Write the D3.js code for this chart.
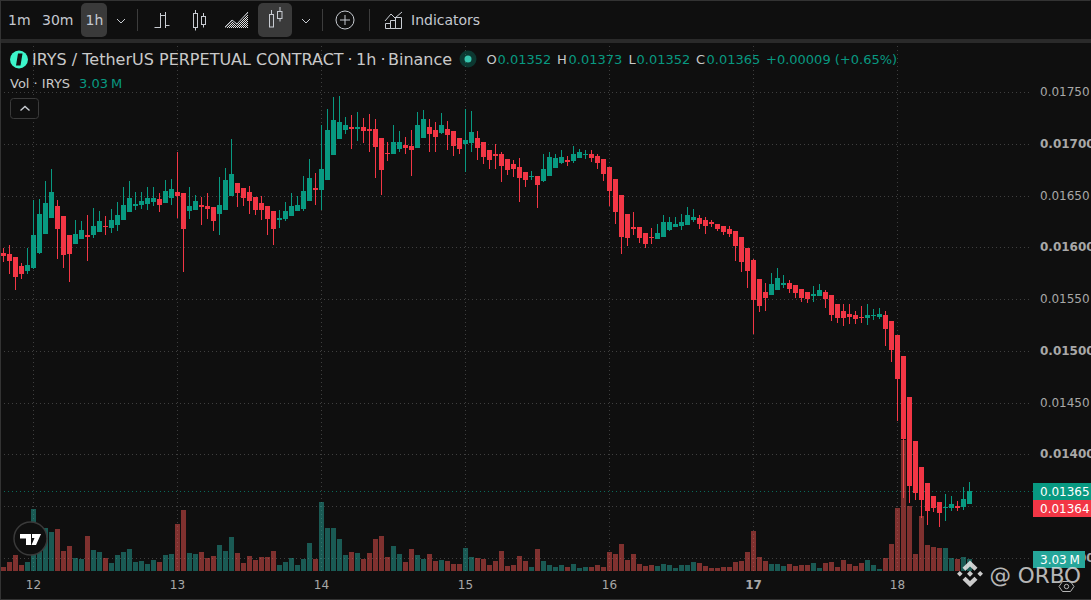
<!DOCTYPE html>
<html><head><meta charset="utf-8">
<style>html,body{margin:0;padding:0;background:#0f0f0f;overflow:hidden}svg{display:block;font-family:"DejaVu Sans",sans-serif}</style>
<script src="https://cdn.jsdelivr.net/npm/d3@7"></script>
</head><body><svg id="c" width="1091" height="600"></svg>
<script>
// Prices in units of 0.00001 USDT, volumes in millions
const opens=[1595,1594,1591,1582,1577,1580,1595,1613,1628,1640,1630,1612,1603,1608,1612,1612,1615,1621,1619,1622,1626,1634,1640,1641,1642,1644,1647,1643,1648,1653,1652,1635,1636,1641,1640,1639,1632,1636,1650,1662,1657,1653,1649,1643,1640,1635,1626,1627,1630,1635,1637,1645,1657,1655,1665,1689,1705,1713,1716,1714,1716,1714,1714,1706,1691,1690,1695,1699,1698,1696,1706,1716,1713,1710,1714,1712,1706,1700,1701,1706,1702,1694,1690,1690,1685,1680,1678,1673,1668,1669,1664,1669,1677,1681,1684,1683,1686,1689,1690,1688,1685,1678,1666,1651,1632,1620,1620,1614,1610,1608,1610,1617,1620,1621,1622,1626,1628,1626,1624,1623,1621,1618,1616,1610,1599,1588,1569,1557,1554,1559,1564,1566,1564,1560,1557,1553,1553,1557,1554,1545,1539,1536,1535,1533,1532,1534,1533,1535,1529,1515,1495,1455,1413,1388,1372,1360,1354,1348,1348,1350,1349,1352];
const highs=[1599,1602,1591,1585,1599,1646,1647,1664,1676,1646,1630,1612,1626,1625,1631,1638,1635,1630,1637,1644,1658,1664,1653,1653,1658,1658,1652,1665,1666,1692,1652,1658,1651,1649,1652,1639,1668,1677,1705,1662,1657,1659,1649,1650,1640,1635,1636,1644,1652,1650,1669,1685,1672,1718,1734,1745,1746,1726,1728,1731,1725,1729,1724,1706,1702,1718,1712,1707,1713,1731,1733,1724,1721,1730,1722,1712,1706,1734,1732,1712,1702,1694,1700,1692,1685,1684,1686,1673,1674,1669,1690,1692,1690,1694,1688,1698,1695,1694,1694,1690,1685,1678,1666,1651,1632,1634,1620,1614,1619,1623,1631,1629,1629,1632,1639,1637,1631,1629,1626,1623,1621,1621,1616,1610,1599,1589,1569,1566,1575,1580,1573,1568,1564,1560,1557,1563,1565,1559,1554,1545,1545,1545,1539,1543,1545,1540,1541,1539,1529,1515,1495,1455,1413,1388,1372,1360,1354,1362,1360,1355,1369,1373];
const lows=[1586,1574,1559,1569,1574,1579,1594,1613,1628,1589,1580,1567,1603,1608,1587,1609,1615,1612,1614,1616,1626,1634,1636,1637,1636,1640,1634,1643,1641,1628,1576,1627,1636,1622,1627,1616,1612,1636,1650,1639,1640,1632,1631,1626,1612,1602,1619,1625,1630,1635,1635,1645,1641,1636,1665,1689,1705,1709,1695,1703,1701,1692,1667,1651,1683,1690,1692,1690,1669,1696,1706,1692,1692,1709,1694,1688,1690,1673,1692,1684,1680,1676,1676,1663,1670,1668,1644,1658,1665,1638,1663,1669,1677,1680,1679,1681,1686,1685,1682,1676,1664,1640,1623,1594,1601,1612,1604,1599,1603,1608,1610,1616,1620,1617,1622,1624,1618,1613,1620,1616,1612,1610,1587,1576,1561,1516,1538,1539,1554,1559,1561,1556,1551,1547,1546,1547,1553,1541,1529,1527,1524,1526,1526,1527,1525,1530,1531,1505,1489,1432,1358,1353,1356,1339,1332,1344,1330,1336,1345,1345,1346,1352];
const closes=[1592,1587,1571,1574,1583,1612,1632,1643,1653,1618,1593,1594,1613,1617,1610,1621,1625,1620,1626,1631,1641,1648,1642,1645,1648,1648,1641,1654,1656,1650,1618,1640,1645,1639,1637,1625,1641,1665,1671,1652,1648,1645,1636,1636,1627,1618,1628,1635,1640,1641,1654,1667,1655,1676,1713,1723,1721,1718,1714,1716,1712,1712,1697,1675,1690,1702,1702,1696,1694,1718,1724,1709,1707,1718,1708,1698,1695,1704,1711,1696,1687,1684,1688,1679,1675,1676,1667,1665,1669,1660,1676,1687,1686,1687,1682,1690,1692,1690,1686,1681,1671,1654,1634,1610,1609,1618,1609,1603,1609,1614,1624,1624,1623,1624,1631,1629,1623,1621,1623,1618,1615,1613,1601,1586,1577,1549,1543,1551,1565,1570,1566,1560,1556,1551,1550,1555,1559,1550,1535,1532,1532,1533,1531,1532,1535,1535,1536,1521,1501,1473,1415,1370,1363,1356,1345,1348,1343,1349,1352,1348,1357,1365];
const volumes=[1.01,2.27,4.04,1.52,2.27,15.66,8.25,10.86,9.85,10.6,5.05,6.32,3.28,3.03,8.84,5.3,4.8,3.28,2.02,4.04,4.8,5.56,2.27,2.53,1.77,2.78,2.27,4.04,4.29,11.87,15.4,4.55,4.29,4.8,3.28,3.79,6.57,5.05,8.59,4.55,2.02,3.79,2.78,3.54,3.54,5.05,1.52,2.27,3.28,1.52,3.03,7.07,3.03,17.43,10.86,10.86,8.08,4.04,4.8,4.55,3.03,4.55,8.08,8.84,3.54,6.32,4.29,2.27,5.56,4.04,3.03,4.29,2.53,2.78,2.53,1.77,1.77,5.81,3.54,3.28,3.03,1.52,2.53,5.05,1.26,1.52,3.79,2.53,1.01,5.56,2.53,1.52,1.01,1.52,1.01,1.77,0.76,1.01,1.01,1.52,1.01,4.8,4.29,6.82,2.78,4.29,1.77,1.26,1.52,1.26,1.77,1.52,0.76,1.52,1.52,2.27,2.02,1.26,0.76,0.76,1.01,1.01,2.27,2.53,4.8,10.1,3.54,2.53,1.77,1.77,1.26,1.77,1.26,1.52,1.52,2.02,0.76,2.02,2.27,1.01,2.78,1.77,1.26,2.02,2.78,1.52,0.51,3.28,6.82,15.9,33.1,16.4,4.29,13.9,6.57,6.06,5.81,5.81,3.28,3.03,3.54,3.03];
const priceTicks=[1750,1700,1650,1600,1550,1500,1450,1400,1350,1300];
const boldPrices=[1700,1600,1500,1400,1300];
const dayIndex=[5,29,53,77,101,125,149];
const dayLabels=["12","13","14","15","16","17","18"];
const boldDays=["17"];
const titleParts=[["IRYS / TetherUS PERPETUAL CONTRACT",32],["·",347.5],["1h",356],["·",380.5],["Binance",388]];
const legendOHLC=[["O","0.01352"],["H","0.01373"],["L","0.01352"],["C","0.01365"]];
const legendChange="+0.00009 (+0.65%)";
const prevTag="0.01364", volumeTag="3.03 M";

const GREEN="#089981",RED="#F23645",BG="#0f0f0f",TXT="#c4c8d0",AXT="#a8a8a8",GRID="#3f3f3f";
const svg=d3.select("#c");
const n=opens.length;
const x=d3.scaleLinear().domain([0,n-1]).range([3.5,969.5]);
const y=d3.scaleLinear().domain([1750,1300]).range([92,558]).interpolate(d3.interpolateRound);
const v=d3.scaleLinear().domain([0,33.1]).range([571,440]);
const fmtP=d=>(d/100000).toFixed(5);
const data=d3.range(n).map(i=>({i,o:opens[i],h:highs[i],l:lows[i],c:closes[i],v:volumes[i],up:closes[i]>=opens[i]}));

svg.append("rect").attr("width",1091).attr("height",600).attr("fill",BG);

// grid
const gridH=svg.append("g").attr("transform","translate(0,0)")
 .call(d3.axisRight(y).tickValues(priceTicks).tickSize(1030).tickFormat(""));
const gridV=svg.append("g").attr("transform","translate(0,571)")
 .call(d3.axisBottom(x).tickValues(dayIndex).tickSize(-528).offset(0).tickFormat(""));
[gridH,gridV].forEach(g=>{g.select(".domain").remove();
 g.selectAll("line").attr("stroke",GRID).attr("stroke-dasharray","1 3");});

// last price line
svg.append("line").attr("x1",0).attr("x2",1033).attr("y1",y(closes[n-1])+.5).attr("y2",y(closes[n-1])+.5)
 .attr("stroke",GREEN).attr("stroke-opacity",.65).attr("stroke-dasharray","1 3");

// candles
const cg=svg.append("g").attr("shape-rendering","crispEdges");
cg.selectAll(".w").data(data).join("rect").attr("class","w")
 .attr("x",d=>x(d.i)-.5).attr("width",1).attr("y",d=>y(d.h)).attr("height",d=>Math.max(1,y(d.l)-y(d.h)))
 .attr("fill",d=>d.up?GREEN:RED);
cg.selectAll(".b").data(data).join("rect").attr("class","b")
 .attr("x",d=>x(d.i)-2.5).attr("width",5).attr("y",d=>y(Math.max(d.o,d.c)))
 .attr("height",d=>Math.max(1,y(Math.min(d.o,d.c))-y(Math.max(d.o,d.c))))
 .attr("fill",d=>d.up?GREEN:RED);

// volume
svg.append("g").attr("shape-rendering","crispEdges").selectAll("rect").data(data).join("rect")
 .attr("x",d=>x(d.i)-2.5).attr("width",5).attr("y",d=>Math.round(v(d.v))).attr("height",d=>571-Math.round(v(d.v)))
 .attr("fill",d=>d.up?"rgba(38,166,154,.5)":"rgba(239,83,80,.5)");

// price axis
const pa=svg.append("g").attr("transform","translate(1040,0)")
 .call(d3.axisRight(y).tickValues(priceTicks).tickSize(0).tickPadding(0).tickFormat(fmtP));
pa.select(".domain").remove();
pa.selectAll("text").attr("fill",AXT).attr("font-size",12).attr("font-family","DejaVu Sans")
 .attr("font-weight",d=>boldPrices.includes(d)?"bold":"normal");

// time axis
const ta=svg.append("g").attr("transform","translate(0,571)")
 .call(d3.axisBottom(x).tickValues(dayIndex).tickSize(0).tickPadding(9.5).offset(0).tickFormat((d,i)=>dayLabels[i]));
ta.select(".domain").remove();
ta.selectAll("text").attr("fill",AXT).attr("font-size",12).attr("font-family","DejaVu Sans")
 .attr("font-weight",(d,i)=>boldDays.includes(dayLabels[i])?"bold":"normal");

// price tags
function tag(yy,h,w,fill,t){svg.append("rect").attr("x",1033).attr("y",yy).attr("width",w).attr("height",h).attr("fill",fill);
 svg.append("text").attr("x",1040).attr("y",yy+h/2+4.5).attr("fill","#fff").attr("font-size",12).attr("word-spacing",-1).text(t);}
tag(483,17,58,GREEN,fmtP(closes[n-1]));
tag(500,17,58,RED,prevTag);
tag(551,17,52,"#26a69a",volumeTag);

// toolbar
svg.append("rect").attr("x",0).attr("y",39).attr("width",1091).attr("height",4).attr("fill","#2a2a2a");
svg.append("rect").attr("x",81).attr("y",3).attr("width",26).attr("height",34).attr("rx",5).attr("fill","#3a3a3a");
svg.append("rect").attr("x",258).attr("y",3).attr("width",34).attr("height",34).attr("rx",5).attr("fill","#3a3a3a");
[["1m",8],["30m",42],["1h",85.5],["Indicators",411]].forEach(([t,xx])=>svg.append("text").attr("x",xx).attr("y",25).attr("fill",TXT).attr("font-size",14).text(t));
[[137.5],[322.5],[369.5]].forEach(([xx])=>svg.append("line").attr("x1",xx).attr("x2",xx).attr("y1",9).attr("y2",31).attr("stroke","#3d3d3d"));
const defs=svg.append("defs");
const pat=defs.append("pattern").attr("id","dots").attr("width",2).attr("height",2).attr("patternUnits","userSpaceOnUse");
pat.append("rect").attr("width",1).attr("height",1).attr("fill","#e0e0e0");
pat.append("rect").attr("x",1).attr("y",1).attr("width",1).attr("height",1).attr("fill","#e0e0e0");
svg.append("path").attr("d","M225 28l7-7 5 4 11-12v15z").attr("fill","url(#dots)");

// legend
svg.append("circle").attr("cx",19).attr("cy",59.5).attr("r",9).attr("fill","#3cf5cb");
svg.append("path").attr("d","M18 53.5h4.5l-2 12h-4.5z").attr("fill","#111");
titleParts.forEach(([t,xx])=>svg.append("text").attr("x",xx).attr("y",65).attr("fill","#c9c9c9").attr("font-size",16).text(t));
svg.append("circle").attr("cx",468).attr("cy",59).attr("r",8.5).attr("fill",GREEN).attr("opacity",.3);
svg.append("circle").attr("cx",468).attr("cy",59).attr("r",3.5).attr("fill","#37c5ae");
const lx=[[486.5,497.5],[557,568.5],[628.5,636.5],[696,706.5]];
legendOHLC.forEach(([k,val],i)=>{
 svg.append("text").attr("x",lx[i][0]).attr("y",64).attr("fill","#c9c9c9").attr("font-size",13).text(k);
 svg.append("text").attr("x",lx[i][1]).attr("y",64).attr("fill",GREEN).attr("font-size",13).text(val);});
svg.append("text").attr("x",766).attr("y",64).attr("fill",GREEN).attr("font-size",13).text(legendChange);
svg.append("text").attr("x",10).attr("y",88).attr("fill","#c9c9c9").attr("font-size",13).text("Vol · IRYS");
svg.append("text").attr("x",79).attr("y",88).attr("fill",GREEN).attr("font-size",13).attr("word-spacing",-1).text(volumeTag);
svg.append("rect").attr("x",10.5).attr("y",98.5).attr("width",28).attr("height",20).attr("rx",3).attr("fill",BG).attr("stroke","#3a3a3a");

// line icons
const ink=svg.append("g").attr("fill","none").attr("stroke","#c8ccd2").attr("stroke-width",1);
[[117,19,121,23,125,19],[302,19,306,23,310,19]].forEach(p=>ink.append("path").attr("d",`M${p[0]} ${p[1]}L${p[2]} ${p[3]}L${p[4]} ${p[5]}`));
ink.append("path").attr("d","M154.5 27.5h5.5M160.5 28V13M160.5 15.5h5M165.5 12v16M165.5 25.5h4");
ink.append("path").attr("d","M195.5 10v3.5M195.5 27.5v3M203.5 13v3M203.5 24.5v3");
ink.append("rect").attr("x",193.5).attr("y",13.5).attr("width",4).attr("height",14);
ink.append("rect").attr("x",201.5).attr("y",16.5).attr("width",4).attr("height",8);
ink.append("path").attr("d","M225 27l7-7 5 4 11-12");
ink.append("path").attr("d","M271.5 10v4M280 7v4M280 19v2.5");
ink.append("rect").attr("x",269.5).attr("y",14.5).attr("width",4).attr("height",12.5);
ink.append("rect").attr("x",277.5).attr("y",11.5).attr("width",4.5).attr("height",7);
ink.append("circle").attr("cx",345).attr("cy",20).attr("r",9);
ink.append("path").attr("d","M340 20h10M345 15v10");
ink.append("path").attr("d","M385 21l6-7 4 4 7-6");
ink.append("path").attr("d","M385.5 28.5v-5h5v5zM390.5 28.5v-8h5v8zM395.5 28.5v-11h6v11z");
ink.append("path").attr("d","M20.5 110.5l4.5-4 4.5 4").attr("stroke-width",1.4);

// TV logo
svg.append("circle").attr("cx",30.5).attr("cy",538.5).attr("r",16.5).attr("fill",BG).attr("stroke","#3a3a3a").attr("stroke-width",1.5);
svg.append("path").attr("d","M20 534h11v11h-5v-6.5h-6zM32 534h9l-5 11h-4.5l3-7h-2.5z").attr("fill","#fff");

// watermark
const wm=svg.append("g").attr("fill","#e6e6e6").attr("fill-opacity",.88);
wm.append("path").attr("d","M970 560.5l7.5 7.2-3 3-4.5-4.3-4.5 4.3-3-3z");
wm.append("path").attr("d","M970 587l7.5-7.2-3-3-4.5 4.3-4.5-4.3-3 3z");
wm.append("path").attr("d","M957 573.7l2.8-2.8 2.8 2.8-2.8 2.8zM977.4 573.7l2.8-2.8 2.8 2.8-2.8 2.8zM970 570.7l3 3-3 3-3-3z");
svg.append("text").attr("x",989.5).attr("y",582.7).attr("fill","#e6e6e6").attr("fill-opacity",.8).attr("font-size",21.5).text("@ ORBO");
svg.append("path").attr("d","M1062.5 581.5h8l3.5 5-3.5 5h-8l-3.5-5z").attr("fill","none").attr("stroke","#b5b5b5");
svg.append("circle").attr("cx",1066.5).attr("cy",586.5).attr("r",2.2).attr("fill","none").attr("stroke","#b5b5b5");

// frame
svg.append("path").attr("d","M0.5 0.5H1090.5M0.5 0V600M0 599.5H1091").attr("stroke","#333").attr("fill","none");
</script></body></html>
